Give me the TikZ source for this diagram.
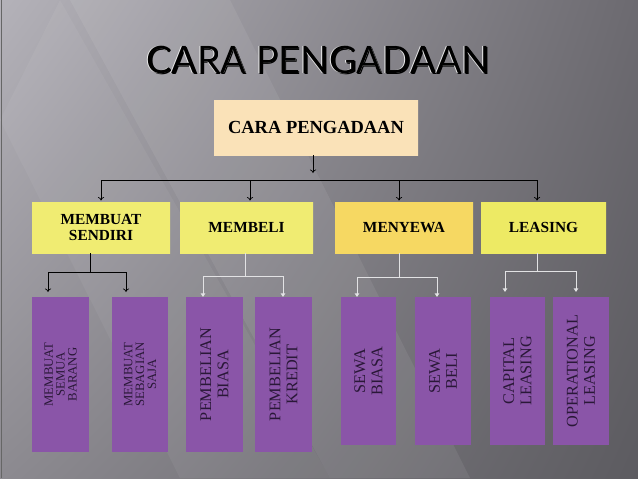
\documentclass[tikz,border=0pt]{standalone}
\usepackage{fontspec}
\setmainfont{Liberation Serif}
\newfontfamily\titlefont{Lato}
\usetikzlibrary{arrows.meta,shadings}
\newlength\pix
\setlength\pix{0.04cm}
\definecolor{bgTL}{HTML}{B4B2B9}
\definecolor{bgTR}{HTML}{6C6A70}
\definecolor{bgBL}{HTML}{8C8A90}
\definecolor{bgBR}{HTML}{5C5B60}
\definecolor{creamL}{HTML}{FAE2B8}
\definecolor{creamM}{HTML}{F2C981}
\definecolor{lemonL}{HTML}{F0EC72}
\definecolor{lemonM}{HTML}{E9E134}
\definecolor{goldL}{HTML}{F6D862}
\definecolor{goldM}{HTML}{F1BE00}
\definecolor{limeL}{HTML}{EDEA64}
\definecolor{limeM}{HTML}{E3DE12}
\definecolor{purplebox}{HTML}{8A55A8}
\definecolor{purpletext}{HTML}{2A1838}
\definecolor{linegray}{HTML}{E2E2E4}
\newcommand{\bigv}{\fontsize{18.5}{19.5}\selectfont}
\newcommand{\smallv}{\fontsize{14.5}{13.5}\selectfont}
\newcommand{\titlesize}{\titlefont\fontsize{43}{43}\selectfont}
\tikzset{
  ybox/.style={minimum width=#1, minimum height=51\pix, inner sep=0pt,
    align=center, font=\bfseries\fontsize{17.5}{19}\selectfont},
  pbox/.style={fill=purplebox, rotate=90, align=center, inner sep=0pt,
    text=purpletext},
  blk/.style={draw=black, line width=0.8pt},
  blkarr/.style={blk, -{To[length=4pt,width=7pt]}},
  wht/.style={draw=linegray, line width=1.1pt},
  whtarr/.style={wht, -{Triangle[length=4pt,width=5pt]}},
}
\begin{document}
\begin{tikzpicture}[x=0.04cm,y=-0.04cm]
\useasboundingbox (0,0) rectangle (638,478);
% background
\shade[upper left=bgTL, upper right=bgTR, lower left=bgBL, lower right=bgBR]
  (0,0) rectangle (638,478);
\fill[white, opacity=0.07] (70,0) -- (230,0) -- (470,478) -- (330,478) -- cycle;
\fill[white, opacity=0.05] (0,120) -- (60,0) -- (330,478) -- (180,478) -- cycle;
\draw[black!60, line width=1pt] (1,0) -- (1,478);

% title
\node[font=\titlesize, text=black] at (319.2,61.2) {CARA PENGADAAN};
\node[font=\titlesize, text=white!85!gray] at (317.6,59.6) {CARA PENGADAAN};
\node[font=\titlesize, text=black] (title) at (318.3,60.3) {CARA PENGADAAN};

% top box
\node[ybox=204\pix, minimum height=55\pix, left color=creamL,
  middle color=creamM, right color=creamL,
  font=\bfseries\fontsize{21}{22}\selectfont] (top) at (316,127.5) {CARA PENGADAAN};

% second row
\node[ybox=138\pix, left color=lemonL, middle color=lemonM,
  right color=lemonL] (s) at (101,227.5) {MEMBUAT\\SENDIRI};
\node[ybox=133\pix, left color=lemonL, middle color=lemonM!90!yellow,
  right color=lemonL] (b) at (246.5,227.5) {MEMBELI};
\node[ybox=138\pix, left color=goldL, middle color=goldM,
  right color=goldL] (w) at (404,227.5) {MENYEWA};
\node[ybox=125\pix, left color=limeL, middle color=limeM,
  right color=limeL] (l) at (543.5,227.5) {LEASING};

% third row
\node[pbox, minimum width=155\pix, minimum height=57\pix, font=\smallv] (p1) at (60.5,374.5) {MEMBUAT\\SEMUA\\BARANG};
\node[pbox, minimum width=155\pix, minimum height=56\pix, font=\smallv] (p2) at (140,374.5) {MEMBUAT\\SEBAGIAN\\SAJA};
\node[pbox, minimum width=155\pix, minimum height=57\pix, font=\bigv] (p3) at (214.5,374.5) {PEMBELIAN\\BIASA};
\node[pbox, minimum width=155\pix, minimum height=57\pix, font=\bigv] (p4) at (283.5,374.5) {PEMBELIAN\\KREDIT};
\node[pbox, minimum width=148\pix, minimum height=55\pix, font=\bigv] (p5) at (368.5,371) {SEWA\\BIASA};
\node[pbox, minimum width=148\pix, minimum height=56\pix, font=\bigv] (p6) at (443,371) {SEWA\\BELI};
\node[pbox, minimum width=148\pix, minimum height=55\pix, font=\bigv] (p7) at (517.5,371) {CAPITAL\\LEASING};
\node[pbox, minimum width=148\pix, minimum height=56\pix, font=\bigv] (p8) at (581,371) {OPERATIONAL\\LEASING};

% top connectors
\coordinate (topend) at (313,173);
\draw[blkarr] (top.south -| topend) -- (topend);
\coordinate (d1) at (101,180);
\coordinate (d2) at (250,180);
\coordinate (d3) at (399,180);
\coordinate (d4) at (537,180);
\draw[blk] (d1) -- (d4);
\draw[blkarr, shorten >=1.5pt] (d1) -- (d1 |- s.north);
\draw[blkarr, shorten >=1.5pt] (d2) -- (d2 |- b.north);
\draw[blkarr, shorten >=1.5pt] (d3) -- (d3 |- w.north);
\draw[blkarr, shorten >=1.5pt] (d4) -- (d4 |- l.north);

% MEMBUAT SENDIRI
\coordinate (sj) at (90,272);
\coordinate (sa) at (48,292);
\coordinate (sb) at (126,292);
\draw[blk] (s.south -| sj) -- (sj);
\draw[blkarr] (sj) -| (sa);
\draw[blkarr] (sj) -| (sb);

% MEMBELI
\coordinate (bj) at (245,276);
\coordinate (ba) at (203,297);
\coordinate (bb) at (283,297);
\draw[wht] (b.south -| bj) -- (bj);
\draw[whtarr] (bj) -| (ba);
\draw[whtarr] (bj) -| (bb);

% MENYEWA
\coordinate (wj) at (399,277);
\coordinate (wa) at (357,297);
\coordinate (wb) at (437,297);
\draw[wht] (w.south -| wj) -- (wj);
\draw[whtarr] (wj) -| (wa);
\draw[whtarr] (wj) -| (wb);

% LEASING
\coordinate (lj) at (537,271);
\coordinate (la) at (505,292);
\coordinate (lb) at (576,292);
\draw[wht] (l.south -| lj) -- (lj);
\draw[whtarr] (lj) -| (la);
\draw[whtarr] (lj) -| (lb);
\end{tikzpicture}
\end{document}
